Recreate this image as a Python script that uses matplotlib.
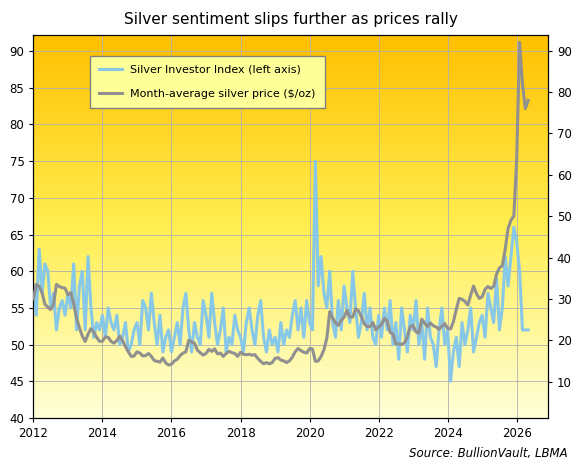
import numpy as np
import matplotlib.pyplot as plt
from matplotlib.colors import LinearSegmentedColormap

# monthly data, Jan 2012 .. May 2026
index_vals = [
    58,54,63,57,61,60,55,57,52,55,56,54,
    57,55,61,52,58,60,52,62,55,51,53,52,
    54,51,55,53,52,54,50,51,53,49,50,52,
    53,50,56,55,52,57,53,50,54,49,51,52,
    49,51,53,50,55,57,52,49,53,51,50,56,
    54,51,57,53,50,52,55,49,51,50,54,52,
    51,49,53,55,52,50,54,56,51,49,52,50,
    51,49,53,50,52,51,54,56,52,55,51,56,
    53,52,75,58,62,57,55,60,53,51,56,52,
    58,55,53,60,55,51,53,57,52,55,51,50,
    54,51,55,52,56,50,53,48,55,52,49,54,
    52,56,50,53,48,55,51,50,47,52,55,50,
    52,45,49,51,47,53,50,52,55,49,51,53,
    54,51,57,55,53,59,52,55,62,58,62,66,
    64,60,52,52,52]
price_vals = [
    30.0,33.5,33.0,31.5,28.7,28.0,27.4,28.7,33.5,33.0,32.7,32.6,
    31.0,31.5,28.8,25.4,23.0,21.0,19.7,21.5,22.8,21.9,20.7,19.7,
    19.8,20.8,20.7,19.7,19.3,19.9,21.0,19.9,18.5,17.2,16.1,16.2,
    17.2,16.9,16.2,16.3,16.8,16.1,15.1,14.9,14.7,15.7,14.5,14.0,
    14.2,15.0,15.4,16.3,16.9,17.2,20.0,19.6,19.3,17.6,17.0,16.4,
    16.8,17.8,17.3,17.9,16.7,16.9,16.1,16.8,17.3,17.0,16.8,16.1,
    17.1,16.6,16.5,16.6,16.4,16.5,15.6,14.9,14.3,14.6,14.3,14.6,
    15.6,15.8,15.2,15.0,14.6,15.0,15.9,17.2,18.0,17.5,17.1,16.9,
    18.0,17.9,14.9,15.0,16.1,17.7,20.5,26.9,25.4,24.2,23.6,24.8,
    25.6,27.2,25.6,25.6,27.6,27.1,25.7,24.0,23.3,23.3,24.3,22.5,
    23.2,23.8,25.3,24.6,21.9,21.5,19.1,19.1,19.0,19.4,20.9,23.3,
    23.6,22.0,21.7,25.1,24.1,23.3,24.2,23.5,23.2,22.6,23.4,24.0,
    22.9,22.7,24.5,27.5,30.1,29.9,29.4,28.5,30.9,33.1,31.3,30.1,
    30.5,32.3,33.0,32.5,33.0,36.0,37.5,38.0,42.0,47.0,49.0,50.0,
    64.0,92.0,82.0,76.0,78.0]
t = 2012 + np.arange(len(index_vals)) / 12.0

fig, ax = plt.subplots(figsize=(5.76, 4.66), dpi=100)
fig.subplots_adjust(left=0.058, right=0.951, top=0.925, bottom=0.103)

cmap = LinearSegmentedColormap.from_list('bg', ['#ffffd8', '#ffee50', '#ffc000'])
ax.imshow(np.linspace(0, 1, 256).reshape(-1, 1), cmap=cmap, aspect='auto',
          extent=[2012, 2026.9, 40, 92.2], origin='lower', zorder=0)

ax.set_xlim(2012, 2026.9)
ax.set_ylim(40, 92.2)
ax.set_xticks(range(2012, 2027, 2))
ax.set_yticks(range(40, 95, 5))
ax.grid(True, color='#b0b0b0', lw=0.6, zorder=1)
ax.tick_params(labelsize=8.5, length=3)

l1, = ax.plot(t, index_vals, color='#87c8e8', lw=2.2, zorder=3,
              label='Silver Investor Index (left axis)')
ax2 = ax.twinx()
ax2.set_ylim(1.2, 93.8)
ax2.set_yticks(range(10, 95, 10))
ax2.tick_params(labelsize=8.5, length=3)
l2, = ax2.plot(t, price_vals, color='#909090', lw=2.2, zorder=3,
               label='Month-average silver price ($/oz)')

leg = ax.legend(handles=[l1, l2], loc='upper left', bbox_to_anchor=(0.1, 0.96),
                fontsize=8, facecolor='#ffff99', edgecolor='#808080',
                framealpha=1, fancybox=False, labelspacing=1.3, borderpad=0.8)
leg.set_zorder(5)

ax.set_title('Silver sentiment slips further as prices rally', fontsize=11, pad=8)
fig.text(0.985, 0.02, 'Source: BullionVault, LBMA', ha='right', fontsize=8.5,
         style='italic')
fig.savefig('out.png')
